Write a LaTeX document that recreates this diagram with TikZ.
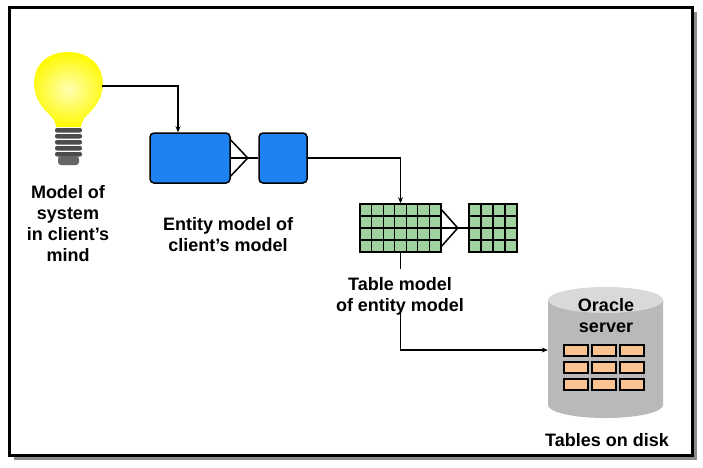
\documentclass[tikz,border=0pt]{standalone}
\usepackage{fontspec}
\setmainfont{Liberation Sans}
\usetikzlibrary{arrows.meta}
\definecolor{eblue}{RGB}{30,130,240}
\definecolor{tgreen}{RGB}{160,210,160}
\definecolor{cell}{RGB}{250,195,145}
\definecolor{cyl}{RGB}{185,185,185}
\begin{document}
\begin{tikzpicture}[x=1pt,y=-1pt,
  lbl/.style={font=\bfseries\fontsize{18}{21}\selectfont,align=center,inner sep=0pt},
  conn/.style={line width=1.5pt,-{Stealth[length=6pt,width=5pt]}},
  plain/.style={line width=1.5pt},
  ent/.style={draw=black,line width=1.5pt,fill=eblue,rounded corners=4pt}]
\useasboundingbox (0,0) rectangle (703,467);
\fill[white] (0,0) rectangle (703,467);
\fill[black!45] (14,12) rectangle (697,460);
\draw[line width=3pt,fill=white] (9,7) rectangle (692,455);
% bulb
\shade[inner color=yellow!30,outer color=yellow!95!orange] (68,52) .. controls (40,52) and (28,75) .. (37,98) .. controls (45,115) and (55,115) .. (56,127) -- (81,127) .. controls (82,115) and (92,115) .. (100,98) .. controls (109,75) and (96,52) .. (68,52) -- cycle;
\foreach \yy in {128,134,140,146,152} \fill[black!70,rounded corners=2pt] (55,\yy) rectangle (82,\yy+4.5);
\fill[black!60,rounded corners=3pt] (58,156) rectangle (79,165);
\node (bulb) at (68,108) {};
\coordinate (bulbR) at (102,86);
\node[lbl] (l1) at (68,224) {Model of\\system\\in client's\\mind};
% entity boxes
\node[ent,minimum width=80pt,minimum height=50pt] (e1) at (190,158) {};
\node[ent,minimum width=48pt,minimum height=50pt] (e2) at (283,158) {};
\draw[plain] (e1.east) -- (e2.west);
\draw[plain] ([yshift=-18pt]e1.east) -- ([xshift=17pt]e1.east) -- ([yshift=18pt]e1.east);
\draw[conn] (bulbR) -| ([xshift=-12pt]e1.north);
\node[lbl] (l2) at (228,235) {Entity model of\\client's model};
% grids
\node[draw,line width=1.5pt,fill=tgreen,minimum width=81pt,minimum height=48pt,inner sep=0pt] (t1) at (400.5,228) {};
\node[draw,line width=1.5pt,fill=tgreen,minimum width=48pt,minimum height=48pt,inner sep=0pt] (t2) at (493,228) {};
\foreach \i in {1,...,6} \draw[line width=1.2pt] (360+\i*81/7,204) -- (360+\i*81/7,252);
\foreach \i in {1,...,3} \draw[line width=1.2pt] (469+\i*12,204) -- (469+\i*12,252);
\foreach \j in {1,2,3} {\draw[line width=1.2pt] (360,204+\j*12) -- (441,204+\j*12);
  \draw[line width=1.2pt] (469,204+\j*12) -- (517,204+\j*12);}
\draw[plain] (t1.east) -- (t2.west);
\draw[plain] ([yshift=-18pt]t1.east) -- ([xshift=16pt]t1.east) -- ([yshift=18pt]t1.east);
\draw[conn] (e2.east) -| (t1.north);
\node[lbl] (l3) at (400,296) {Table model\\of entity model};
\draw[plain] (t1.south) -- ++(0,16);
% cylinder
\fill[cyl] (548,300) -- (548,405) arc[start angle=180,end angle=0,x radius=57.5,y radius=13] -- (663,300) -- cycle;
\fill[black!15] (605.5,300) ellipse[x radius=57.5,y radius=13];
\node (db) at (605.5,350) [minimum width=115pt,minimum height=110pt] {};
\node[lbl] (l4) at (606,316) {Oracle\\server};
\foreach \r in {0,1,2} \foreach \c in {0,1,2}
  \draw[line width=1.3pt,fill=cell] (564+\c*28,345+\r*17) rectangle ++(24,11);
\draw[conn] ([yshift=3pt]l3.south -| t1.south) |- (db.west);
\node[lbl] (l5) at (607,440) {Tables on disk};
\end{tikzpicture}
\end{document}
